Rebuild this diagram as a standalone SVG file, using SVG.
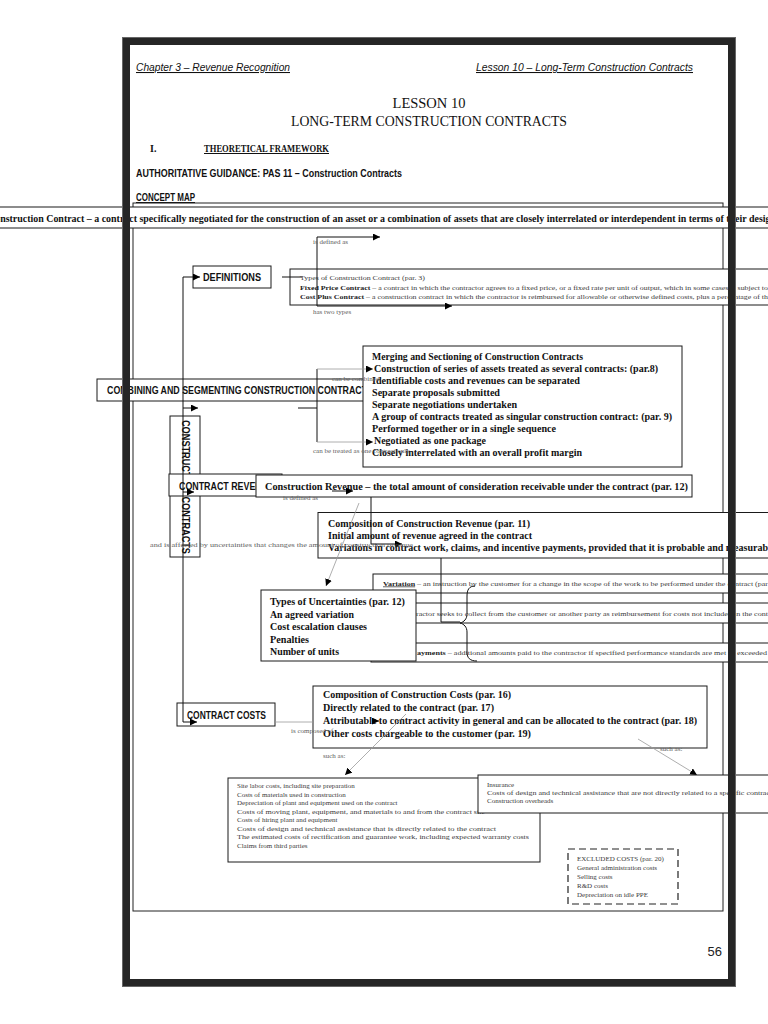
<svg xmlns="http://www.w3.org/2000/svg" width="768" height="1024" viewBox="0 0 768 1024">
<defs>
<style>
.box{fill:#fff;stroke:#1a1a1a;stroke-width:1}
.hb{font-family:"Liberation Serif",serif;font-weight:bold;font-size:10px;fill:#111}
.hs{font-family:"Liberation Sans",Arial,sans-serif;font-weight:bold;font-size:10.5px;fill:#111}
.sm{font-family:"Liberation Serif",serif;font-size:7px;fill:#3a3a3a}
.lbl{font-family:"Liberation Serif",serif;font-size:7px;fill:#606060}
.ln{fill:none;stroke:#111;stroke-width:1}
.gl{fill:none;stroke:#999;stroke-width:0.8}
.hdr{font-family:"Liberation Sans",Arial,sans-serif;font-style:italic;font-size:10.5px;fill:#111;text-decoration:underline}
</style>
<marker id="ah" markerUnits="userSpaceOnUse" markerWidth="8" markerHeight="7" refX="7" refY="3.5" orient="auto">
<path d="M0,0 L7,3.5 L0,7 z" fill="#000"/>
</marker>
</defs>
<rect x="0" y="0" width="768" height="1024" fill="#fff"/>

<g id="header">
<text class="hdr" x="136" y="71" textLength="154" lengthAdjust="spacingAndGlyphs">Chapter 3 – Revenue Recognition</text>
<text class="hdr" x="476" y="71" textLength="217" lengthAdjust="spacingAndGlyphs">Lesson 10 – Long-Term Construction Contracts</text>
<text x="429" y="108" text-anchor="middle" font-family="Liberation Serif,serif" font-size="14.5" fill="#111">LESSON 10</text>
<text x="429" y="126" text-anchor="middle" font-family="Liberation Serif,serif" font-size="14.5" fill="#111" textLength="276" lengthAdjust="spacingAndGlyphs">LONG-TERM CONSTRUCTION CONTRACTS</text>
<text class="hb" x="150" y="152">I.</text>
<text class="hb" x="204" y="152" textLength="125" lengthAdjust="spacingAndGlyphs" text-decoration="underline">THEORETICAL FRAMEWORK</text>
<text class="hs" x="136" y="176.5" font-size="10" textLength="266" lengthAdjust="spacingAndGlyphs">AUTHORITATIVE GUIDANCE: PAS 11 – Construction Contracts</text>
<text class="hs" x="136" y="201" font-size="10" textLength="59" lengthAdjust="spacingAndGlyphs" text-decoration="underline">CONCEPT MAP</text>
</g>

<rect id="concept-frame" x="133" y="203" width="590" height="708" fill="none" stroke="#222" stroke-width="1"/>

<g id="contract-definition">
<rect class="box" x="-5" y="207" width="780" height="21"/>
<text class="hb" x="-12" y="221.5" font-size="10.5" textLength="788" lengthAdjust="spacingAndGlyphs">Construction Contract – a contract specifically negotiated for the construction of an asset or a combination of assets that are closely interrelated or interdependent in terms of their design</text>
</g>

<g id="definitions">
<rect class="box" x="193" y="266" width="78" height="22"/>
<text class="hs" x="203" y="281" font-size="11" textLength="58" lengthAdjust="spacingAndGlyphs">DEFINITIONS</text>
</g>

<g id="types-contract">
<rect class="box" x="290" y="269" width="500" height="36"/>
<text class="sm" x="300" y="279.5" textLength="125" lengthAdjust="spacingAndGlyphs">Types of Construction Contract (par. 3)</text>
<text class="sm" x="300" y="289.5" textLength="468" lengthAdjust="spacingAndGlyphs"><tspan font-weight="bold" fill="#222">Fixed Price Contract</tspan> – a contract in which the contractor agrees to a fixed price, or a fixed rate per unit of output, which in some cases is subject to</text>
<text class="sm" x="300" y="299" textLength="468" lengthAdjust="spacingAndGlyphs"><tspan font-weight="bold" fill="#222">Cost Plus Contract</tspan> – a construction contract in which the contractor is reimbursed for allowable or otherwise defined costs, plus a percentage of th</text>
</g>

<g id="combining">
<rect class="box" x="97" y="379" width="290" height="22"/>
<text class="hs" x="107" y="394" textLength="266" lengthAdjust="spacingAndGlyphs">COMBINING AND SEGMENTING CONSTRUCTION CONTRACTS</text>
</g>

<g id="merging">
<rect class="box" x="363" y="346" width="319" height="121"/>
<text class="hb" x="372" y="360" textLength="211" lengthAdjust="spacingAndGlyphs">Merging and Sectioning of Construction Contracts</text>
<text class="hb" x="374" y="372" textLength="284" lengthAdjust="spacingAndGlyphs">Construction of series of assets treated as several contracts: (par.8)</text>
<text class="hb" x="372" y="384" textLength="208" lengthAdjust="spacingAndGlyphs">Identifiable costs and revenues can be separated</text>
<text class="hb" x="372" y="396" textLength="128" lengthAdjust="spacingAndGlyphs">Separate proposals submitted</text>
<text class="hb" x="372" y="408" textLength="145" lengthAdjust="spacingAndGlyphs">Separate negotiations undertaken</text>
<text class="hb" x="372" y="420" textLength="300" lengthAdjust="spacingAndGlyphs">A group of contracts treated as singular construction contract: (par. 9)</text>
<text class="hb" x="372" y="432" textLength="184" lengthAdjust="spacingAndGlyphs">Performed together or in a single sequence</text>
<text class="hb" x="374" y="444" textLength="112" lengthAdjust="spacingAndGlyphs">Negotiated as one package</text>
<text class="hb" x="372" y="456" textLength="210" lengthAdjust="spacingAndGlyphs">Closely interrelated with an overall profit margin</text>
</g>

<g id="construction-contracts">
<rect class="box" x="170" y="416" width="30" height="141"/>
<text class="hs" transform="translate(181.5,420) rotate(90)" x="0" y="0" textLength="134" lengthAdjust="spacingAndGlyphs">CONSTRUCTION CONTRACTS</text>
</g>

<g id="contract-revenue">
<rect class="box" x="169" y="474" width="113" height="22"/>
<text class="hs" x="179" y="489.5" textLength="95" lengthAdjust="spacingAndGlyphs">CONTRACT REVENUE</text>
</g>

<g id="construction-revenue">
<rect class="box" x="256" y="475" width="436" height="22"/>
<text class="hb" x="265" y="489.5" font-size="10.5" textLength="423" lengthAdjust="spacingAndGlyphs">Construction Revenue – the total amount of consideration receivable under the contract (par. 12)</text>
</g>

<g id="composition-revenue">
<rect class="box" x="318" y="512.5" width="500" height="45.5"/>
<text class="hb" x="328" y="526.5" font-size="10.5" textLength="202" lengthAdjust="spacingAndGlyphs">Composition of Construction Revenue (par. 11)</text>
<text class="hb" x="328" y="538.5" font-size="10.5" textLength="204" lengthAdjust="spacingAndGlyphs">Initial amount of revenue agreed in the contract</text>
<text class="hb" x="328" y="551" font-size="10.5" textLength="440" lengthAdjust="spacingAndGlyphs">Variations in contract work, claims, and incentive payments, provided that it is probable and measurab</text>
</g>

<g id="variation">
<rect class="box" x="373" y="574" width="500" height="19"/>
<text class="sm" x="383" y="585.5" textLength="385" lengthAdjust="spacingAndGlyphs"><tspan font-weight="bold" fill="#222" text-decoration="underline">Variation</tspan> – an instruction by the customer for a change in the scope of the work to be performed under the contract (par</text>
</g>
<g id="claims">
<rect class="box" x="373" y="603" width="500" height="20"/>
<text class="sm" x="416" y="616" textLength="352" lengthAdjust="spacingAndGlyphs">ractor seeks to collect from the customer or another party as reimbursement for costs not included in the cont</text>
</g>
<g id="incentive">
<rect class="box" x="371" y="643" width="500" height="19"/>
<text class="sm" x="417" y="655" textLength="350" lengthAdjust="spacingAndGlyphs"><tspan font-weight="bold" fill="#222">ayments</tspan> – additional amounts paid to the contractor if specified performance standards are met or exceeded</text>
</g>

<g id="uncertainties">
<rect class="box" x="261" y="590" width="155" height="71"/>
<text class="hb" x="270" y="605" textLength="135" lengthAdjust="spacingAndGlyphs">Types of Uncertainties (par. 12)</text>
<text class="hb" x="270" y="617.5" textLength="84" lengthAdjust="spacingAndGlyphs">An agreed variation</text>
<text class="hb" x="270" y="630" textLength="97" lengthAdjust="spacingAndGlyphs">Cost escalation clauses</text>
<text class="hb" x="270" y="642.5" textLength="39" lengthAdjust="spacingAndGlyphs">Penalties</text>
<text class="hb" x="270" y="655" textLength="69" lengthAdjust="spacingAndGlyphs">Number of units</text>
</g>

<g id="contract-costs">
<rect class="box" x="177" y="703" width="98" height="23"/>
<text class="hs" x="187" y="718.5" textLength="79" lengthAdjust="spacingAndGlyphs">CONTRACT COSTS</text>
</g>

<g id="composition-costs">
<rect class="box" x="313" y="686" width="394" height="62"/>
<text class="hb" x="323" y="698" textLength="188" lengthAdjust="spacingAndGlyphs">Composition of Construction Costs (par. 16)</text>
<text class="hb" x="323" y="711" textLength="171" lengthAdjust="spacingAndGlyphs">Directly related to the contract (par. 17)</text>
<text class="hb" x="323" y="724" textLength="374" lengthAdjust="spacingAndGlyphs">Attributable to contract activity in general and can be allocated to the contract (par. 18)</text>
<text class="hb" x="323" y="737" textLength="208" lengthAdjust="spacingAndGlyphs">Other costs chargeable to the customer (par. 19)</text>
</g>

<g id="direct-costs">
<rect class="box" x="228" y="778" width="312" height="84"/>
<text class="sm" x="237" y="788">Site labor costs, including site preparation</text>
<text class="sm" x="237" y="796.5">Costs of materials used in construction</text>
<text class="sm" x="237" y="805">Depreciation of plant and equipment used on the contract</text>
<text class="sm" x="237" y="813.5" textLength="248" lengthAdjust="spacingAndGlyphs">Costs of moving plant, equipment, and materials to and from the contract site</text>
<text class="sm" x="237" y="822">Costs of hiring plant and equipment</text>
<text class="sm" x="237" y="830.5" textLength="259" lengthAdjust="spacingAndGlyphs">Costs of design and technical assistance that is directly related to the contract</text>
<text class="sm" x="237" y="839" textLength="292" lengthAdjust="spacingAndGlyphs">The estimated costs of rectification and guarantee work, including expected warranty costs</text>
<text class="sm" x="237" y="847.5">Claims from third parties</text>
</g>

<g id="general-costs">
<rect class="box" x="478" y="775" width="300" height="38"/>
<text class="sm" x="487" y="786.5">Insurance</text>
<text class="sm" x="487" y="794.5" textLength="283" lengthAdjust="spacingAndGlyphs">Costs of design and technical assistance that are not directly related to a specific contrac</text>
<text class="sm" x="487" y="802.5">Construction overheads</text>
</g>

<g id="excluded-costs">
<rect x="568" y="849" width="110" height="55" fill="#fff" stroke="#222" stroke-width="1.2" stroke-dasharray="7 4"/>
<text class="sm" x="577" y="861">EXCLUDED COSTS (par. 20)</text>
<text class="sm" x="577" y="870">General administration costs</text>
<text class="sm" x="577" y="879">Selling costs</text>
<text class="sm" x="577" y="888">R&amp;D costs</text>
<text class="sm" x="577" y="897">Depreciation on idle PPE</text>
</g>

<g id="connectors">
<path class="ln" d="M183,722 V277 H200" marker-end="url(#ah)"/>
<path class="ln" d="M183,408 H198" marker-end="url(#ah)"/>
<path class="ln" d="M183,492 H194" marker-end="url(#ah)"/>
<path class="ln" d="M183,722 H197" marker-end="url(#ah)"/>
<path class="ln" d="M282,277 H302"/>
<path class="ln" d="M317,306 V237 H380" marker-end="url(#ah)"/>
<path class="ln" d="M317,306 H452" marker-end="url(#ah)"/>
<path class="ln" d="M298,408 H317"/>
<path class="ln" d="M317,369 V442"/>
<path class="gl" d="M317,369 H373" marker-end="url(#ah)"/>
<path class="gl" d="M317,442 H373" marker-end="url(#ah)"/>
<path class="ln" d="M332,491 H353" marker-end="url(#ah)"/>
<path class="ln" d="M371,497 V544 H402" marker-end="url(#ah)"/>
<path class="gl" d="M359,503 L326,586" marker-end="url(#ah)"/>
<path class="ln" d="M441,558 V622 H460"/>
<path class="ln" d="M475,586 C469,586 467,590 467,596 L467,614 C467,619 464,622 460,623 C464,624 467,627 467,632 L467,652 C467,658 470,661 477,661"/>
<path class="gl" d="M275,722 H313"/>
<path class="ln" d="M372,721 H379" marker-end="url(#ah)"/>
<path class="gl" d="M406,714 L345,775" marker-end="url(#ah)"/>
<path class="gl" d="M638,739 L697,775" marker-end="url(#ah)"/>
</g>

<g id="connector-labels">
<text class="lbl" x="313" y="244">is defined as</text>
<text class="lbl" x="313" y="314">has two types</text>
<text class="lbl" x="332" y="380.5">can be combined</text>
<text class="lbl" x="313" y="453">can be treated as one contract only</text>
<text class="lbl" x="283" y="500">is defined as</text>
<text class="lbl" x="150" y="547" textLength="263" lengthAdjust="spacingAndGlyphs">and is affected by uncertainties that changes the amount of construction revenue</text>
<text class="lbl" x="291" y="732.5">is composed of</text>
<text class="lbl" x="323" y="758">such as:</text>
<text class="lbl" x="660" y="751">such as:</text>
</g>

<text x="722" y="956" text-anchor="end" font-family="Liberation Sans,Arial,sans-serif" font-size="13" fill="#222">56</text>

<rect id="page-border" x="126.5" y="41.5" width="605" height="941" fill="none" stroke="#262626" stroke-width="7"/>
<rect x="122.5" y="37.5" width="613" height="949" fill="none" stroke="#666" stroke-width="1"/>
</svg>
